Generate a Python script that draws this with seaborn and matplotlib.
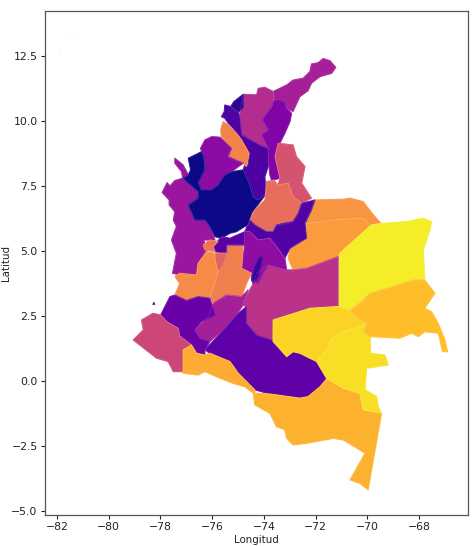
import matplotlib
matplotlib.use("Agg")
import matplotlib.pyplot as plt
from matplotlib.collections import PolyCollection
from matplotlib.colors import Normalize
import seaborn as sns

GUAJIRA=[(-73.64,11.15),(-73.12,11.40),(-72.87,11.59),(-72.48,11.66),(-72.22,11.92),(-72.16,12.21),(-71.90,12.26),(-71.71,12.42),(-71.45,12.34),(-71.22,12.08),(-71.38,11.85),(-71.83,11.72),(-72.16,11.47),(-72.29,11.18),(-72.61,10.95),(-72.87,10.38),(-73.12,10.50),(-73.19,10.76),(-73.45,10.85),(-73.61,10.80)]
MAGDALENA=[(-74.80,11.04),(-74.28,11.02),(-74.22,11.27),(-73.96,11.31),(-73.64,11.15),(-73.61,10.80),(-73.70,10.57),(-74.03,10.12),(-74.05,10.03),(-73.83,9.67),(-74.09,9.48),(-73.83,8.96),(-74.03,9.03),(-74.41,9.22),(-74.86,9.48),(-74.93,10.31)]
ATLANTICO=[(-74.80,11.04),(-74.80,10.54),(-74.99,10.34),(-75.28,10.57),(-75.16,10.76)]
BOLIVAR=[(-75.51,10.63),(-75.28,10.57),(-74.99,10.34),(-74.93,10.18),(-74.86,9.48),(-74.41,9.22),(-74.03,9.03),(-73.83,8.96),(-73.83,8.26),(-73.96,7.87),(-73.92,7.23),(-74.22,6.97),(-74.41,7.10),(-74.57,7.62),(-74.80,8.13),(-74.74,8.32),(-74.61,8.32),(-74.57,8.77),(-74.86,9.28),(-75.19,9.73),(-75.38,9.93),(-75.51,10.12),(-75.64,10.18),(-75.53,10.38)]
SUCRE=[(-75.57,9.99),(-75.38,9.86),(-75.06,9.54),(-74.86,9.28),(-74.57,8.77),(-74.67,8.26),(-74.80,8.39),(-75.08,8.51),(-75.38,8.64),(-75.25,8.96),(-75.64,9.41),(-75.67,9.67)]
CORDOBA=[(-76.02,9.41),(-75.70,9.39),(-75.25,8.96),(-75.38,8.64),(-75.08,8.51),(-74.80,8.39),(-75.25,8.06),(-75.51,7.94),(-75.77,7.55),(-76.02,7.36),(-76.41,7.36),(-76.54,7.62),(-76.28,8.13),(-76.32,8.64),(-76.45,8.96),(-76.28,9.28)]
ANTIOQUIA=[(-76.41,8.83),(-76.32,8.64),(-76.28,8.13),(-76.54,7.62),(-76.41,7.36),(-76.02,7.36),(-75.77,7.55),(-75.51,7.94),(-75.25,8.06),(-74.80,8.13),(-74.57,7.62),(-74.41,7.10),(-74.22,6.97),(-73.92,7.20),(-74.48,6.46),(-74.57,6.01),(-74.74,5.95),(-75.06,5.75),(-75.31,5.69),(-75.64,5.50),(-75.89,5.56),(-76.09,5.95),(-76.28,6.20),(-76.67,6.20),(-76.92,6.78),(-76.54,7.04),(-76.54,7.29),(-76.99,7.68),(-77.12,7.81),(-76.92,7.94),(-76.83,8.13),(-76.92,8.58)]
CHOCO=[(-77.44,8.58),(-77.44,8.39),(-77.18,8.06),(-77.14,7.81),(-77.44,7.72),(-77.63,7.51),(-77.74,7.64),(-77.93,7.26),(-77.66,6.97),(-77.66,6.78),(-77.44,6.52),(-77.50,6.20),(-77.38,5.95),(-77.57,5.43),(-77.38,4.92),(-77.53,4.15),(-76.99,4.02),(-76.60,4.08),(-76.54,4.53),(-76.19,4.92),(-76.32,5.43),(-75.89,5.43),(-76.09,5.95),(-76.28,6.20),(-76.67,6.20),(-76.92,6.78),(-76.54,7.04),(-76.54,7.29),(-76.99,7.68),(-77.12,7.81),(-76.92,7.94),(-77.12,8.32)]
SANTANDER=[(-73.90,7.68),(-73.61,7.74),(-73.45,7.55),(-73.06,7.62),(-72.87,7.10),(-72.54,6.84),(-72.67,6.46),(-72.87,6.14),(-73.25,6.01),(-73.51,6.01),(-73.64,5.75),(-73.90,5.75),(-74.35,6.01),(-74.54,6.20),(-74.35,6.59),(-73.96,6.97),(-73.92,7.36)]
NORTE_SANTANDER=[(-73.45,9.16),(-72.87,9.09),(-72.74,8.64),(-72.41,8.26),(-72.54,7.62),(-72.16,7.04),(-72.54,6.84),(-72.87,7.10),(-73.06,7.62),(-73.45,7.55),(-73.38,7.81),(-73.57,8.64),(-73.51,8.90)]
CESAR=[(-73.61,10.80),(-73.45,10.85),(-73.19,10.76),(-73.12,10.50),(-72.93,10.31),(-72.99,9.99),(-73.19,9.54),(-73.51,8.90),(-73.57,8.64),(-73.38,7.81),(-73.70,7.72),(-73.77,7.94),(-73.83,8.64),(-73.83,8.96),(-74.09,9.48),(-73.83,9.67),(-74.05,10.03),(-74.03,10.12),(-73.70,10.57)]
ARAUCA=[(-72.07,6.97),(-70.93,7.00),(-70.67,7.04),(-70.16,6.91),(-69.77,6.40),(-69.45,6.04),(-69.90,5.95),(-70.16,6.27),(-71.32,6.20),(-72.35,6.07),(-72.41,6.14),(-72.16,6.59)]
CASANARE=[(-72.35,6.07),(-71.32,6.20),(-70.16,6.27),(-69.84,6.01),(-70.42,5.50),(-71.06,4.92),(-71.13,4.79),(-72.35,4.34),(-72.87,4.28),(-73.06,4.73),(-72.99,5.11),(-72.35,5.50),(-72.35,5.82)]
VICHADA=[(-69.45,6.07),(-68.48,6.14),(-67.84,6.27),(-67.52,6.14),(-67.58,5.82),(-67.84,5.05),(-67.78,3.89),(-68.23,3.89),(-69.00,3.64),(-69.90,3.38),(-70.29,3.00),(-70.67,2.74),(-71.13,2.87),(-71.06,4.92),(-70.42,5.50),(-69.84,6.01)]
GUAINIA=[(-70.67,2.74),(-70.29,3.00),(-69.90,3.38),(-69.00,3.64),(-68.23,3.89),(-67.78,3.89),(-67.39,3.38),(-67.78,2.80),(-67.52,2.67),(-67.26,2.22),(-67.00,1.58),(-66.90,1.13),(-67.09,1.13),(-67.26,1.84),(-67.78,1.90),(-68.03,1.71),(-68.29,1.84),(-68.74,1.65),(-69.90,1.71),(-70.16,1.90),(-70.03,2.22),(-70.29,2.35)]
GUAVIARE=[(-73.64,2.35),(-72.22,2.80),(-71.13,2.87),(-70.67,2.71),(-70.29,2.35),(-70.03,2.22),(-70.93,1.90),(-71.38,1.65),(-71.58,1.20),(-71.96,0.75),(-72.61,1.07),(-72.87,1.13),(-73.12,0.94),(-73.64,1.52)]
VAUPES=[(-70.03,2.22),(-70.16,1.90),(-69.88,1.71),(-69.88,1.07),(-69.32,1.00),(-69.19,0.62),(-70.03,0.49),(-70.09,-0.34),(-69.64,-0.60),(-69.58,-0.99),(-69.45,-1.24),(-70.16,-1.11),(-70.29,-0.47),(-70.93,-0.28),(-71.58,0.11),(-71.96,0.75),(-71.58,1.20),(-71.38,1.65),(-70.93,1.90)]
AMAZONAS=[(-71.58,0.07),(-70.93,-0.28),(-70.29,-0.47),(-70.16,-1.11),(-69.45,-1.24),(-69.97,-4.19),(-70.29,-3.94),(-70.67,-3.81),(-70.09,-2.78),(-70.93,-2.27),(-71.32,-2.21),(-72.35,-2.40),(-72.87,-2.46),(-73.12,-2.21),(-73.19,-1.88),(-73.51,-1.76),(-73.77,-1.24),(-74.35,-0.92),(-74.41,-0.47),(-73.77,-0.50),(-72.61,-0.66),(-72.29,-0.60),(-71.83,-0.22)]
PUTUMAYO=[(-77.12,1.20),(-76.80,1.39),(-76.60,1.07),(-76.28,1.00),(-76.09,1.07),(-75.31,0.75),(-74.99,0.30),(-74.67,-0.02),(-74.35,-0.34),(-74.35,-0.50),(-74.41,-0.47),(-74.74,-0.22),(-75.19,-0.09),(-75.70,0.11),(-76.28,0.36),(-76.54,0.23),(-77.12,0.30)]
CAQUETA=[(-74.67,2.87),(-74.67,2.22),(-74.28,1.77),(-73.70,1.58),(-73.12,0.94),(-72.87,1.13),(-72.61,1.07),(-71.96,0.75),(-71.58,0.11),(-71.83,-0.22),(-72.29,-0.60),(-72.61,-0.66),(-73.77,-0.50),(-74.35,-0.34),(-74.67,-0.02),(-74.99,0.30),(-75.31,0.75),(-76.09,1.07),(-76.28,1.20),(-75.44,2.10),(-75.06,2.54)]
META=[(-74.28,4.15),(-73.83,4.47),(-73.12,4.28),(-72.87,4.28),(-72.35,4.34),(-71.13,4.79),(-71.13,2.87),(-72.22,2.80),(-73.64,2.35),(-73.66,1.58),(-74.28,1.77),(-74.67,2.22),(-74.67,2.87),(-74.86,2.93),(-74.41,3.76)]
BOYACA=[(-72.03,6.97),(-72.16,6.59),(-72.41,6.07),(-72.35,5.50),(-72.99,5.11),(-73.19,4.73),(-73.51,5.18),(-73.77,5.50),(-74.22,5.43),(-74.54,5.75),(-74.74,5.75),(-74.54,6.20),(-74.35,6.01),(-73.90,5.75),(-73.64,5.75),(-73.51,6.01),(-72.87,6.14),(-72.67,6.46),(-72.54,6.84)]
CUNDINAMARCA=[(-74.74,5.75),(-74.54,5.75),(-74.22,5.43),(-73.77,5.50),(-73.51,5.18),(-73.19,4.73),(-73.12,4.28),(-73.83,4.47),(-74.03,4.15),(-74.22,3.76),(-74.48,3.89),(-74.48,4.15),(-74.86,4.34),(-74.74,5.24)]
BOGOTA=[(-74.15,4.79),(-74.05,4.73),(-74.22,4.02),(-74.41,3.76),(-74.48,3.89),(-74.35,4.41)]
CALDAS=[(-75.96,5.18),(-75.64,5.56),(-75.31,5.50),(-74.74,5.75),(-74.74,5.24),(-75.44,5.24),(-75.44,4.92),(-75.89,4.98)]
RISARALDA=[(-76.09,5.43),(-75.77,5.37),(-75.96,5.18),(-75.89,4.98),(-76.28,5.05),(-76.35,5.24)]
QUINDIO=[(-75.89,4.92),(-75.44,4.92),(-75.57,4.47),(-75.77,4.21),(-75.89,4.66)]
TOLIMA=[(-75.44,5.24),(-74.80,5.24),(-74.86,4.34),(-74.48,4.15),(-74.67,3.76),(-74.86,3.25),(-75.44,3.31),(-75.96,2.99),(-76.09,3.19),(-75.77,4.15),(-75.57,4.47),(-75.44,4.92)]
VALLE=[(-76.22,4.98),(-75.89,4.92),(-75.89,4.66),(-75.77,4.21),(-76.09,3.19),(-76.54,3.25),(-76.99,3.10),(-77.44,3.31),(-77.25,3.76),(-77.44,4.02),(-77.25,4.15),(-76.60,4.08),(-76.54,4.53)]
HUILA=[(-75.44,3.31),(-74.86,3.25),(-74.61,3.51),(-74.80,2.93),(-75.06,2.54),(-75.57,1.97),(-76.09,1.52),(-76.47,1.65),(-76.67,1.97),(-76.15,2.48),(-75.96,2.99)]
CAUCA=[(-77.63,3.25),(-77.44,3.31),(-76.99,3.10),(-76.54,3.25),(-76.09,3.19),(-75.89,2.54),(-76.41,2.29),(-76.67,1.97),(-76.47,1.65),(-76.09,1.52),(-76.28,1.20),(-76.28,1.00),(-76.60,1.07),(-76.80,1.39),(-77.25,1.77),(-77.31,2.03),(-77.76,2.29),(-77.99,2.54)]
GORGONA=[(-78.29,2.95),(-78.22,2.95),(-78.25,3.03)]
NARINO=[(-78.28,2.61),(-77.99,2.54),(-77.76,2.29),(-77.31,2.03),(-77.25,1.71),(-76.80,1.39),(-77.12,1.20),(-77.12,0.36),(-77.50,0.36),(-77.70,0.75),(-78.15,0.88),(-79.05,1.58),(-78.66,1.97),(-78.73,2.35)]

SHAPES=[GUAJIRA,MAGDALENA,CESAR,NORTE_SANTANDER,BOLIVAR,ATLANTICO,SUCRE,CORDOBA,CHOCO,ANTIOQUIA,SANTANDER,ARAUCA,CASANARE,BOYACA,VICHADA,META,CUNDINAMARCA,TOLIMA,CALDAS,RISARALDA,QUINDIO,VALLE,HUILA,CAUCA,GORGONA,NARINO,CAQUETA,PUTUMAYO,AMAZONAS,GUAVIARE,VAUPES,GUAINIA,BOGOTA]
VALUES=[0.36,0.41,0.26,0.54,0.13,0.06,0.70,0.29,0.33,0.00,0.63,0.75,0.77,0.14,0.97,0.43,0.30,0.69,0.16,0.66,0.60,0.72,0.36,0.20,0.20,0.50,0.17,0.81,0.83,0.91,0.94,0.86,0.08]
ISLAND_LON=[-81.42,-81.92]
ISLAND_LAT=[13.33,12.63]

sns.set_theme(style="ticks")
plt.rcParams["font.family"]="DejaVu Sans"
cmap=sns.color_palette("plasma",as_cmap=True)
fig=plt.figure(figsize=(4.74,5.46),dpi=100)
ax=fig.add_axes([45/474,1-515/546,423/474,504/546])
norm=Normalize(0,1)
ax.add_collection(PolyCollection(SHAPES,array=VALUES,cmap=cmap,norm=norm,edgecolors="face",linewidths=0.8))
ax.add_collection(PolyCollection(SHAPES,facecolors="none",edgecolors=(1,1,1,0.16),linewidths=0.4))
sns.scatterplot(x=ISLAND_LON,y=ISLAND_LAT,color="#fbfbd0",s=3,linewidth=0,ax=ax,zorder=3)
ax.set_xlim(-82.46,-66.11)
ax.set_ylim(-5.16,14.25)
ax.set_xticks([-82,-80,-78,-76,-74,-72,-70,-68])
ax.set_yticks([-5,-2.5,0,2.5,5,7.5,10,12.5])
ax.tick_params(labelsize=7.8,length=2.8,width=0.8,pad=2.5,colors="#222222")
ax.set_xlabel("Longitud",fontsize=7.4,labelpad=2,color="#222222")
ax.set_ylabel("Latitud",fontsize=7.4,color="#222222")
ax.yaxis.set_label_coords(-0.08,0.5)
for s in ax.spines.values():
    s.set_color("#555555")
    s.set_linewidth(0.9)
fig.savefig("out.png",dpi=100)
